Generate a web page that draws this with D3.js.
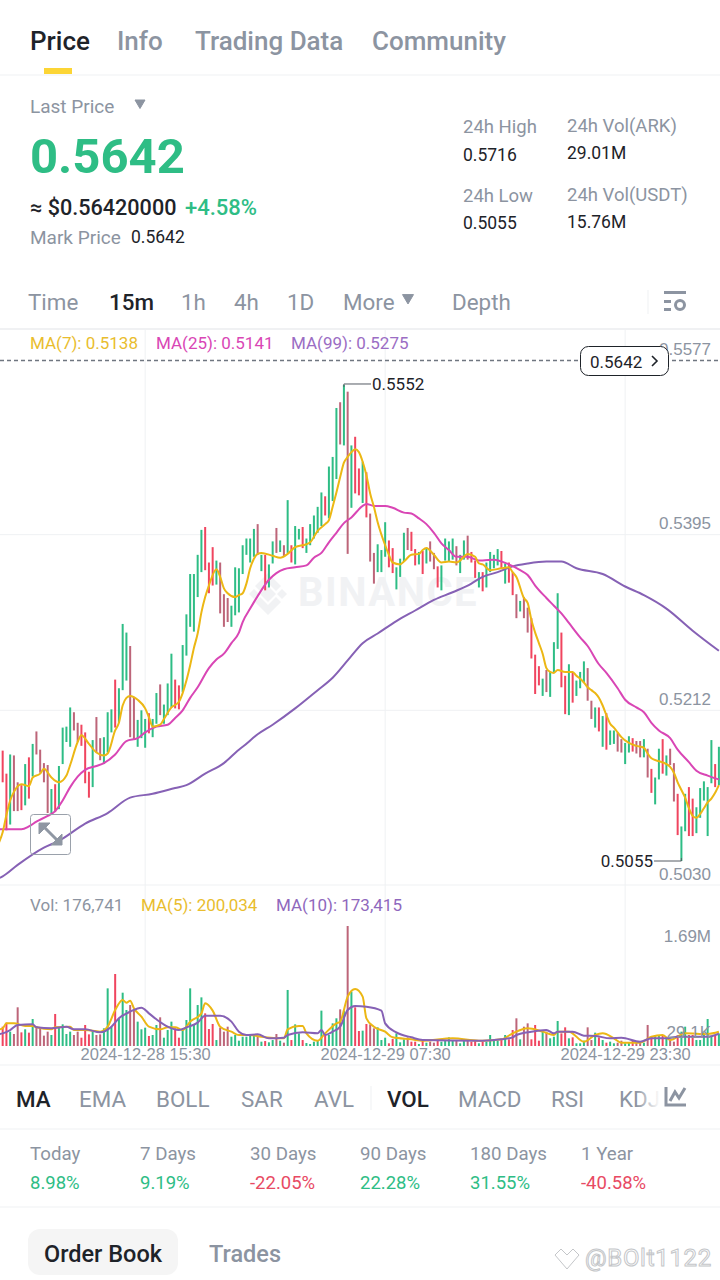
<!DOCTYPE html>
<html>

<head>
    <meta charset="utf-8">
    <style>
        html, body { margin: 0; padding: 0; background: #fff; }
        svg { display: block; font-family: Roboto, "Noto Sans", sans-serif; }
    </style>
</head>

<body>
    <script src="https://d3js.org/d3.v7.min.js"></script>
    <div id="main"></div>

    <script>
        // prices are in units of 0.0001, volumes in thousands
        const candleOpen = [
            5170,5146,5093,5165,5137,5134,5113,5163,5143,5190,5171,5157,5155,5105,5135,5109,
            5156,5179,5174,5210,5199,5197,5189,5148,5132,5205,5183,5156,5168,5189,5244,5199,
            5233,5243,5279,5226,5174,5183,5173,5209,5184,5198,5239,5198,5207,5215,5244,5238,
            5231,5269,5299,5294,5330,5356,5403,5366,5382,5343,5366,5333,5329,5299,5311,5314,
            5354,5374,5366,5372,5406,5357,5374,5340,5365,5402,5377,5384,5376,5384,5364,5390,
            5403,5376,5384,5391,5397,5404,5435,5412,5430,5453,5533,5488,5544,5423,5497,5464,
            5428,5460,5417,5376,5356,5356,5372,5389,5381,5338,5351,5367,5402,5398,5380,5364,
            5378,5365,5388,5376,5362,5337,5368,5367,5369,5383,5355,5369,5394,5377,5368,5340,
            5356,5340,5356,5360,5363,5378,5344,5366,5356,5333,5315,5330,5319,5308,5270,5258,
            5227,5254,5226,5252,5276,5293,5248,5207,5252,5227,5235,5241,5256,5222,5194,5215,
            5174,5209,5176,5177,5189,5182,5156,5168,5183,5180,5180,5163,5172,5151,5114,5140,
            5182,5144,5172,5157,5125,5055,5086,5132,5120,5084,5100,5118,5081,5136,5156,5134
        ];
        const candleClose = [
            5137,5087,5166,5107,5107,5108,5156,5120,5177,5166,5147,5137,5105,5130,5106,5154,
            5194,5195,5215,5191,5179,5175,5136,5121,5181,5168,5160,5184,5210,5213,5194,5235,
            5302,5293,5184,5182,5202,5212,5203,5188,5203,5230,5207,5218,5240,5271,5214,5213,
            5280,5312,5354,5354,5374,5400,5358,5334,5342,5368,5313,5299,5304,5321,5361,5360,
            5384,5391,5391,5401,5374,5374,5337,5364,5388,5376,5389,5372,5431,5366,5404,5401,
            5381,5391,5406,5415,5424,5439,5415,5466,5476,5527,5489,5551,5375,5488,5438,5436,
            5471,5413,5367,5344,5385,5379,5408,5361,5355,5361,5370,5397,5379,5378,5363,5377,
            5354,5381,5367,5359,5340,5363,5391,5388,5391,5363,5374,5389,5369,5366,5350,5356,
            5336,5366,5377,5374,5380,5360,5365,5345,5332,5308,5326,5308,5293,5266,5229,5238,
            5245,5231,5252,5283,5334,5236,5208,5260,5220,5243,5252,5263,5222,5203,5215,5190,
            5206,5171,5191,5191,5169,5168,5178,5185,5169,5167,5163,5182,5142,5126,5142,5172,
            5146,5165,5155,5117,5082,5091,5125,5081,5081,5111,5131,5138,5132,5181,5132,5174
        ];
        const candleVolume = [
            272,329,202,169,545,192,235,188,380,282,249,146,202,155,451,263,
            305,169,202,155,202,117,296,164,202,155,164,249,812,272,1014,390,
            751,507,577,516,343,235,258,141,155,296,404,117,225,343,249,117,
            249,366,812,296,577,685,460,239,310,84,258,202,272,131,155,75,
            131,131,141,141,131,61,70,52,84,169,75,47,789,84,305,178,
            84,42,28,61,84,498,155,155,319,390,516,498,1690,765,545,211,
            216,310,305,249,263,84,117,38,99,178,52,94,122,61,61,28,
            75,47,61,47,84,61,75,122,84,75,38,75,75,61,75,38,
            61,61,155,75,75,84,155,94,225,390,94,272,319,94,296,75,
            225,202,108,131,352,178,263,108,122,38,38,75,263,84,188,122,
            84,47,61,38,47,75,38,47,75,61,61,47,296,131,155,141,
            155,108,84,61,155,202,272,155,155,84,84,155,380,131,141,177
        ];

        const ma7Candle = [-1,0,1,2,3,5,7,8,10,11,13,15,17,18,20,21,23,25,27,28,30,31,32,33,34,36,38,39,40,42,43,45,47,48,49,50,51,52,53,54,55,57,58,59,60,62,63,64,65,66,67,68,69,72,74,76,78,81,82,84,86,87,88,89,90,91,92,93,94,95,96,97,98,99,100,102,103,104,106,107,109,111,112,113,115,117,119,121,122,123,124,126,127,128,130,133,135,136,137,139,140,141,142,143,144,145,146,147,148,150,152,153,154,155,156,157,158,159,160,161,162,163,164,165,167,169,171,172,173,175,177,178,179,180,181,182,183,184,185,186,187,188,189,190,191];
        const ma7Price = [5074,5085,5103,5118,5127,5135,5133,5142,5146,5151,5142,5137,5144,5155,5179,5186,5177,5168,5165,5167,5191,5199,5217,5225,5227,5223,5214,5205,5195,5197,5203,5215,5221,5230,5243,5259,5277,5292,5314,5330,5342,5359,5351,5339,5334,5330,5332,5334,5344,5360,5370,5375,5376,5373,5371,5375,5382,5385,5387,5399,5406,5410,5424,5439,5455,5470,5476,5481,5484,5481,5471,5457,5438,5424,5408,5384,5374,5366,5364,5367,5374,5375,5379,5381,5374,5366,5367,5366,5368,5372,5375,5372,5365,5364,5358,5360,5361,5356,5351,5329,5324,5306,5293,5282,5271,5256,5252,5251,5254,5252,5252,5248,5245,5241,5236,5233,5230,5225,5217,5207,5198,5194,5189,5184,5178,5175,5173,5167,5162,5159,5156,5153,5147,5137,5129,5121,5110,5102,5100,5104,5110,5116,5120,5126,5134];

        const ma25Candle = [-1,0,2,5,7,9,12,14,16,18,20,22,25,27,30,33,36,38,41,44,46,48,50,52,55,57,59,61,63,64,66,68,71,73,75,78,81,83,85,87,89,91,93,96,97,99,102,104,107,109,111,113,115,117,119,121,124,127,128,131,135,138,140,142,145,147,149,151,154,156,159,161,164,166,169,171,173,175,178,180,183,185,188,191];
        const ma25Price = [5088,5088,5088,5088,5091,5096,5102,5107,5118,5132,5143,5150,5154,5157,5166,5180,5183,5189,5195,5197,5204,5212,5225,5236,5256,5265,5271,5282,5293,5304,5318,5331,5348,5355,5359,5361,5363,5371,5376,5387,5397,5407,5413,5425,5427,5425,5425,5423,5418,5417,5412,5406,5397,5386,5379,5372,5372,5368,5368,5369,5364,5358,5353,5342,5329,5321,5313,5303,5288,5279,5260,5251,5235,5223,5215,5210,5199,5191,5183,5171,5158,5149,5144,5140];

        const ma99Candle = [-1,0,4,11,15,22,28,34,40,46,49,54,59,63,64,68,72,78,84,88,92,96,100,105,110,115,120,125,127,128,132,136,140,145,149,153,160,166,171,177,184,191];
        const ma99Price = [5037,5039,5051,5069,5076,5094,5105,5121,5125,5131,5134,5146,5157,5171,5174,5187,5197,5214,5233,5246,5264,5282,5292,5305,5316,5327,5335,5344,5349,5351,5356,5362,5365,5367,5367,5360,5354,5341,5332,5318,5295,5274];

        const volMa5Candle = [-1,0,1,3,6,8,9,13,14,18,19,22,26,28,30,32,33,34,35,37,39,42,44,46,48,50,53,54,56,58,61,63,66,69,75,76,79,80,81,84,86,89,90,92,94,96,97,99,102,104,109,112,120,127,128,133,136,140,144,147,148,151,155,158,160,163,165,170,173,176,178,182,188,191];
        const volMa5 = [235,249,319,319,282,282,263,235,263,272,225,225,202,272,507,648,610,638,530,413,272,235,263,263,225,343,460,601,498,272,202,155,155,131,108,235,282,282,178,75,178,319,343,695,803,695,390,272,202,122,94,75,108,75,75,94,178,249,202,155,202,202,61,155,178,108,47,47,131,155,84,178,169,200];

        const volMa10Candle = [-1,0,2,4,8,9,13,17,19,22,26,29,31,34,37,39,41,44,47,49,52,54,58,61,63,65,68,71,75,76,80,84,85,86,88,90,92,94,97,101,102,105,109,112,127,128,133,136,137,141,145,147,148,152,155,158,162,165,170,173,177,180,188,191];
        const volMa10 = [165,178,225,296,305,263,249,272,235,235,192,272,390,483,540,460,376,272,225,263,329,427,427,343,202,155,164,108,117,155,192,178,225,155,202,272,507,563,554,498,319,192,122,84,75,75,94,122,155,202,225,178,202,202,146,141,108,117,61,108,108,131,131,173];

        const priceTicks = [5577, 5395, 5212, 5030];
        const volumeTicks = [1690, 29.1];
        const volumeTickLabels = ["1.69M", "29.1K"];
        const dateCandles = [38, 102, 166];
        const dateLabels = ["2024-12-28 15:30", "2024-12-29 07:30", "2024-12-29 23:30"];
        const lastPrice = 5642, highPrice = 5552, highCandle = 91, lowPrice = 5055, lowCandle = 181;

        const topTabs = ["Price", "Info", "Trading Data", "Community"];
        const intervals = ["Time", "15m", "1h", "4h", "1D", "More", "Depth"];
        const indicators = ["MA", "EMA", "BOLL", "SAR", "AVL", "VOL", "MACD", "RSI", "KDJ"];
        const periods = ["Today", "7 Days", "30 Days", "90 Days", "180 Days", "1 Year"];
        const periodChange = [8.98, 9.19, -22.05, 22.28, 31.55, -40.58];

        // layout and colours
        const topTabX = [30, 117, 195, 372];
        const intervalX = [28, 109, 181, 234, 287, 343, 452];
        const indicatorX = [16, 79, 156, 241, 314, 387, 458, 551, 619];
        const periodX = [30, 140, 250, 360, 470, 581];
        const softCandles = new Set([3,4,9,10,11,12,19,20,25,26,34,35,42,58,59,60,68,73,75,90,92,98,99,108,114,115,121,124,137,139,140,145,156,157,164,165,169,170,172,178,179]);

        const green = "#2ebd85", red = "#f0455f", softRed = "#bd6579";
        const yellow = "#ecb714", magenta = "#d946b5", purple = "#8661b5";
        const gray = "#8c94a1", dark = "#1e2329", grid = "#eff1f3";

        var svg = d3.select("#main")
            .append("svg")
            .attr("width", 720)
            .attr("height", 1280);

        var x = d3.scaleLinear().domain([0, 191]).range([2.67, 718.9]);
        var y = d3.scaleLinear().domain([5030, 5577]).range([885, 360]);
        var yVol = d3.scaleLinear().domain([0, 1690]).range([1046, 926]);

        function label(px, py, txt, size, color, weight, anchor) {
            return svg.append("text")
                .attr("x", px)
                .attr("y", py)
                .attr("dy", "0.35em")
                .style("font-size", size + "px")
                .style("font-weight", weight || 400)
                .style("text-anchor", anchor || "start")
                .style("fill", color)
                .text(txt);
        }

        function hline(py, color) {
            svg.append("line").attr("x1", 0).attr("x2", 720).attr("y1", py).attr("y2", py)
                .style("stroke", color || grid).style("stroke-width", 1);
        }

        function triangle(cx, cy, w, color) {
            svg.append("path")
                .attr("d", `M${cx - w / 2},${cy - w * 0.4}H${cx + w / 2}L${cx},${cy + w * 0.45}Z`)
                .style("fill", color)
                .style("stroke", color)
                .style("stroke-linejoin", "round");
        }

        // header
        topTabs.forEach(function (t, i) {
            label(topTabX[i], 41, t, 26, i == 0 ? dark : gray, 500);
        });
        svg.append("rect").attr("x", 44).attr("y", 68).attr("width", 28).attr("height", 6).style("fill", "#fcd535");
        hline(75);

        label(30, 106, "Last Price", 19, gray);
        triangle(140, 104, 10, gray);
        label(30, 156, "0.5642", 49, green, 700);
        label(30, 207, "≈ $0.56420000", 21.6, dark, 500);
        label(185, 207, "+4.58%", 22, green, 500);
        label(30, 237, "Mark Price", 19, gray);
        label(131, 237, "0.5642", 17.5, dark);

        label(463, 127, "24h High", 18.5, gray);
        label(463, 155, "0.5716", 17.5, dark);
        label(463, 196, "24h Low", 18.5, gray);
        label(463, 223, "0.5055", 17.5, dark);
        label(567, 126, "24h Vol(ARK)", 18.5, gray);
        label(567, 153, "29.01M", 17.5, dark);
        label(567, 195, "24h Vol(USDT)", 18.5, gray);
        label(567, 222, "15.76M", 17.5, dark);

        // interval row
        intervals.forEach(function (t, i) {
            label(intervalX[i], 302, t, 22.4, t == "15m" ? dark : gray, t == "15m" ? 500 : 400);
        });
        triangle(408, 299, 11, gray);
        svg.append("line").attr("x1", 648).attr("x2", 648).attr("y1", 290).attr("y2", 314).style("stroke", grid);
        var cfg = svg.append("g").style("fill", gray);
        cfg.append("rect").attr("x", 664).attr("y", 291).attr("width", 22).attr("height", 3);
        cfg.append("rect").attr("x", 664).attr("y", 300).attr("width", 7).attr("height", 3);
        cfg.append("rect").attr("x", 664).attr("y", 308).attr("width", 7).attr("height", 3);
        cfg.append("circle").attr("cx", 680).attr("cy", 305).attr("r", 4.5).style("fill", "none").style("stroke", gray).style("stroke-width", 3);
        svg.append("rect").attr("x", 0).attr("y", 328).attr("width", 720).attr("height", 2).style("fill", "#f0f1f3");

        // grid
        dateCandles.forEach(function (c) {
            svg.append("line").attr("x1", x(c)).attr("x2", x(c)).attr("y1", 330).attr("y2", 1046)
                .style("stroke", grid).style("stroke-width", 1);
        });
        priceTicks.slice(1).forEach(function (p) { hline(y(p)); });
        hline(1065);

        // watermark
        var mark = svg.append("g").attr("transform", "translate(268,594)").style("fill", "#f1f2f4");
        [[0, 0, 8], [-14, 0, 5], [14, 0, 5]].forEach(function (m) {
            mark.append("path").attr("d", `M${m[0]},${m[1] - m[2]}l${m[2]},${m[2]}l${-m[2]},${m[2]}l${-m[2]},${-m[2]}Z`);
        });
        ["M0,-21L13,-8L8,-3L0,-11L-8,-3L-13,-8Z", "M0,21L13,8L8,3L0,11L-8,3L-13,8Z"].forEach(function (d) {
            mark.append("path").attr("d", d);
        });
        svg.append("text").attr("x", 298).attr("y", 606).text("BINANCE")
            .style("font-size", "40px").style("font-weight", 700).style("fill", "#f1f2f4").style("letter-spacing", "1.5px");

        // candles and volume bars
        function candleColor(i) {
            if (candleClose[i] >= candleOpen[i]) return green;
            return softCandles.has(i) ? softRed : red;
        }

        svg.append("g").selectAll("rect")
            .data(candleOpen)
            .enter().append("rect")
            .attr("x", function (d, i) { return x(i) - 1; })
            .attr("width", 2)
            .attr("y", function (d, i) { return y(Math.max(d, candleClose[i])); })
            .attr("height", function (d, i) { return Math.abs(y(d) - y(candleClose[i])); })
            .style("fill", function (d, i) { return candleColor(i); });

        svg.append("g").selectAll("rect")
            .data(candleVolume)
            .enter().append("rect")
            .attr("x", function (d, i) { return x(i) - 1; })
            .attr("width", 2)
            .attr("y", function (d) { return yVol(d); })
            .attr("height", function (d) { return yVol(0) - yVol(d); })
            .style("fill", function (d, i) { return candleColor(i); });

        // moving averages
        function maLine(candles, values, yScale, color, width) {
            var line = d3.line()
                .x(function (d) { return x(d); })
                .y(function (d, i) { return yScale(values[i]); })
                .curve(d3.curveMonotoneX);
            svg.append("path").datum(candles).attr("d", line)
                .style("fill", "none").style("stroke", color).style("stroke-width", width);
        }
        maLine(ma99Candle, ma99Price, y, purple, 2);
        maLine(ma25Candle, ma25Price, y, magenta, 2);
        maLine(ma7Candle, ma7Price, y, yellow, 2);
        maLine(volMa5Candle, volMa5, yVol, yellow, 2);
        maLine(volMa10Candle, volMa10, yVol, purple, 2);

        // price axis
        var priceAxis = svg.append("g").attr("transform", "translate(711,0)")
            .call(d3.axisLeft(y).tickValues(priceTicks).tickSize(0).tickPadding(0)
                .tickFormat(function (d) { return d3.format(".4f")(d / 1e4); }));
        priceAxis.select(".domain").remove();
        priceAxis.selectAll("text").attr("dy", -6).style("font-size", "17px").style("font-family", "inherit").style("fill", gray);

        var volAxis = svg.append("g").attr("transform", "translate(711,0)")
            .call(d3.axisLeft(yVol).tickValues(volumeTicks).tickSize(0).tickPadding(0)
                .tickFormat(function (d, i) { return volumeTickLabels[i]; }));
        volAxis.select(".domain").remove();
        volAxis.selectAll("text").attr("dy", function (d) { return d == 1690 ? 15 : -6; })
            .style("font-size", "17px").style("font-family", "inherit").style("fill", gray);

        var dateAxis = svg.append("g").attr("transform", "translate(0,1046)")
            .call(d3.axisBottom(x).tickValues(dateCandles).tickSize(0).tickPadding(2)
                .tickFormat(function (d, i) { return dateLabels[i]; }));
        dateAxis.select(".domain").remove();
        dateAxis.selectAll("text").style("font-size", "16.5px").style("font-family", "inherit").style("fill", gray);

        // legends
        label(30, 343, "MA(7): 0.5138", 17, "#e9bd2e");
        label(156, 343, "MA(25): 0.5141", 17, magenta);
        label(291, 343, "MA(99): 0.5275", 17, "#9b6dc4");
        label(30, 905, "Vol: 176,741", 17, gray);
        label(141, 905, "MA(5): 200,034", 17, "#e9bd2e");
        label(276, 905, "MA(10): 173,415", 17, "#8f68bd");

        // last price line and tag
        svg.append("line").attr("x1", 0).attr("x2", 720).attr("y1", 360.5).attr("y2", 360.5)
            .style("stroke", "#6f7680").style("stroke-width", 1.5).style("stroke-dasharray", "4,3");
        svg.append("rect").attr("x", 580.5).attr("y", 346.5).attr("width", 88).attr("height", 29).attr("rx", 8)
            .style("fill", "#fff").style("stroke", "#1e2329").style("stroke-width", 1);
        label(590, 362, d3.format(".4f")(lastPrice / 1e4), 17, dark);
        svg.append("path").attr("d", "M652,356l5,5l-5,5").style("fill", "none").style("stroke", dark).style("stroke-width", 1.6);

        // high and low markers
        svg.append("path").attr("d", `M${x(highCandle)},${y(highPrice) + 3}V${y(highPrice)}H371`)
            .style("fill", "none").style("stroke", "#555b63").style("stroke-width", 1);
        label(372, y(highPrice), d3.format(".4f")(highPrice / 1e4), 17, dark);
        svg.append("path").attr("d", `M${x(lowCandle)},${y(lowPrice) - 3}V${y(lowPrice)}H654`)
            .style("fill", "none").style("stroke", "#555b63").style("stroke-width", 1);
        label(653, y(lowPrice), d3.format(".4f")(lowPrice / 1e4), 17, dark, 400, "end");

        // expand button
        svg.append("rect").attr("x", 30.5).attr("y", 814.5).attr("width", 40).attr("height", 40).attr("rx", 3)
            .style("fill", "none").style("stroke", "#9aa1ab").style("stroke-width", 1);
        svg.append("path").attr("d", "M42,825L60,843").style("stroke", "#8f97a3").style("stroke-width", 3);
        svg.append("path").attr("d", "M39,823h11l-11,11Z").style("fill", "#8f97a3").style("stroke", "#8f97a3");
        svg.append("path").attr("d", "M62,845h-11l11,-11Z").style("fill", "#8f97a3").style("stroke", "#8f97a3");

        // indicator row
        indicators.forEach(function (t, i) {
            var active = t == "MA" || t == "VOL";
            label(indicatorX[i], 1099, t, 22.4, active ? dark : gray, active ? 500 : 400);
        });
        svg.append("line").attr("x1", 371).attr("x2", 371).attr("y1", 1086).attr("y2", 1110).style("stroke", grid);
        var fade = svg.append("defs").append("linearGradient").attr("id", "fade");
        fade.append("stop").attr("offset", "0").style("stop-color", "#fff").style("stop-opacity", 0);
        fade.append("stop").attr("offset", "1").style("stop-color", "#fff").style("stop-opacity", 1);
        svg.append("rect").attr("x", 636).attr("y", 1085).attr("width", 24).attr("height", 28).style("fill", "url(#fade)");
        svg.append("path").attr("d", "M666,1087V1105H686").style("fill", "none").style("stroke", gray).style("stroke-width", 3);
        svg.append("path").attr("d", "M670,1101L675,1092L679,1098L685,1088").style("fill", "none").style("stroke", gray).style("stroke-width", 3);
        hline(1129);

        // period returns
        periods.forEach(function (t, i) {
            label(periodX[i], 1153, t, 18.7, gray);
            var v = periodChange[i];
            label(periodX[i], 1183, v.toFixed(2) + "%", 18.5, v < 0 ? "#e84a63" : green);
        });
        hline(1207);

        // order book tabs
        svg.append("rect").attr("x", 28).attr("y", 1229).attr("width", 150).attr("height", 46).attr("rx", 12).style("fill", "#f5f5f5");
        label(44, 1254, "Order Book", 23.5, dark, 500);
        label(209, 1254, "Trades", 23.5, gray, 500);

        // username stamp
        var stamp = svg.append("g").style("fill", "#fff").style("stroke", "#c4c6c9").style("stroke-width", 1);
        stamp.append("text").attr("x", 585).attr("y", 1266).text("@BOlt1122").style("font-size", "24px").style("letter-spacing", "0.7px");
        stamp.append("path").attr("d", "M555,1255l6,-6l6,6l6,-6l6,6l-12,14Z").style("fill", "none");
    </script>
</body>

</html>
